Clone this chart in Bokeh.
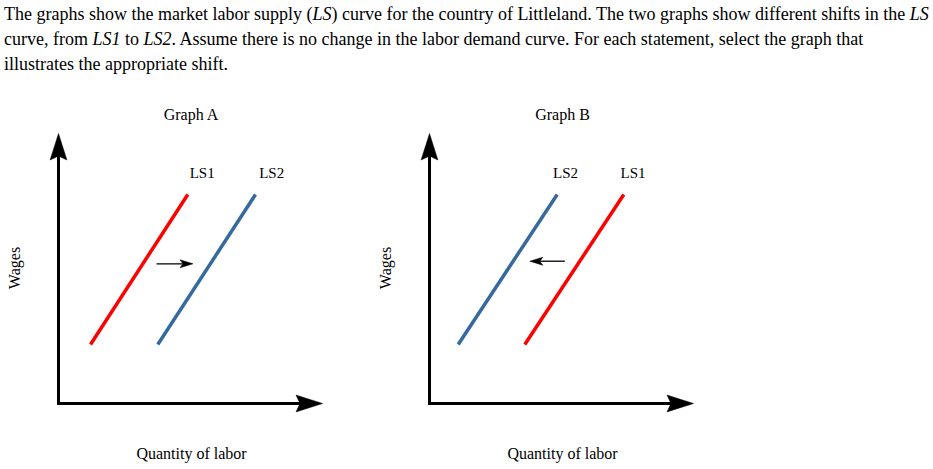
from bokeh.plotting import figure
from bokeh.models import Div
from bokeh.layouts import column, row
from bokeh.core.properties import value
from bokeh.embed import file_html
from bokeh.resources import INLINE

# ---------------- data (abstract units: quantity of labor / wages) ----------------
intro_lines = [
    "The graphs show the market labor supply (<i>LS</i>) curve for the country of Littleland. "
    "The two graphs show different shifts in the <i>LS</i>",
    "curve, from <i>LS1</i> to <i>LS2</i>. Assume there is no change in the labor demand curve. "
    "For each statement, select the graph that",
    "illustrates the appropriate shift.",
]
graph_titles = ["Graph A", "Graph B"]
x_label = "Quantity of labor"
y_label = "Wages"
curve_names = ["LS1", "LS2"]

wage_ends = [5.9, 20.9]            # wage at bottom / top of each LS line
a_ls1_q = [3.2, 12.93]
a_ls2_q = [9.93, 19.7]
b_ls1_q = [9.53, 19.43]
b_ls2_q = [2.87, 12.77]

a_shift_q = [9.8, 13.45]           # tail -> tip of the shift arrow
a_shift_w = 13.97
b_shift_q = [13.53, 10.03]
b_shift_w = 14.23

a_label_q = [14.37, 21.32]         # LS1, LS2 label centres
b_label_q = [20.35, 13.6]

axis_q_max = 26.4
axis_w_max = 27.0

RED = "#ff0000"
BLUE = "#366a9f"
FONT = value("Liberation Serif")


def head_poly(tx, ty, dx, dy, length, half, notch):
    n = (dx * dx + dy * dy) ** 0.5
    ux, uy = dx / n, dy / n
    px, py = -uy, ux
    bx, by = tx - length * ux, ty - length * uy
    nx, ny = tx - (length - notch) * ux, ty - (length - notch) * uy
    return ([tx, bx + half * px, nx, bx - half * px],
            [ty, by + half * py, ny, by - half * py])


def make_graph(title, ls1_q, ls2_q, shift_q, shift_w, label_q):
    p = figure(width=371, height=370, x_range=(-5.8, 31.3), y_range=(-6.2, 30.8),
               output_backend="svg", toolbar_location=None, min_border=0,
               x_axis_type=None, y_axis_type=None, tools="")
    p.grid.visible = False
    p.outline_line_color = None
    p.background_fill_color = "white"
    p.border_fill_color = "white"

    # axes with arrowheads
    hl, hh, hn = 2.65, 0.84, 0.4
    p.line([0, 0], [-0.15, axis_w_max - hl + hn], line_width=3, line_color="black")
    p.line([-0.15, axis_q_max - hl + hn], [0, 0], line_width=3, line_color="black")
    xs, ys = head_poly(0, axis_w_max, 0, 1, hl, hh, hn)
    p.patch(xs, ys, fill_color="black", line_color="black", line_width=0.5)
    xs, ys = head_poly(axis_q_max, 0, 1, 0, hl, hh, hn)
    p.patch(xs, ys, fill_color="black", line_color="black", line_width=0.5)

    # supply curves
    p.line(ls1_q, wage_ends, line_color=RED, line_width=3.5)
    p.line(ls2_q, wage_ends, line_color=BLUE, line_width=3.5)

    # shift arrow
    sl, sh, sn = 1.3, 0.4, 0.3
    d = shift_q[1] - shift_q[0]
    sgn = 1 if d > 0 else -1
    p.line([shift_q[0], shift_q[1] - sgn * (sl - sn)], [shift_w, shift_w],
           line_color="black", line_width=1.3)
    xs, ys = head_poly(shift_q[1], shift_w, d, 0, sl, sh, sn)
    p.patch(xs, ys, fill_color="black", line_color="black", line_width=0.5)

    # texts
    p.text(x=label_q, y=[23.1, 23.1], text=curve_names, text_font=FONT,
           text_font_size="15px", text_align="center", text_baseline="alphabetic",
           text_color="black")
    p.text(x=[13.3], y=[28.9], text=[title], text_font=FONT, text_font_size="16px",
           text_align="center", text_baseline="alphabetic", text_color="black")
    p.text(x=[13.3], y=[-4.95], text=[x_label], text_font=FONT, text_font_size="16px",
           text_align="center", text_baseline="alphabetic", text_color="black")
    p.text(x=[-4.4], y=[13.55], text=[y_label], text_font=FONT, text_font_size="16px",
           text_align="center", text_baseline="alphabetic", text_color="black",
           angle=1.5707963)
    return p


pa = make_graph(graph_titles[0], a_ls1_q, a_ls2_q, a_shift_q, a_shift_w, a_label_q)
pb = make_graph(graph_titles[1], b_ls1_q, b_ls2_q, b_shift_q, b_shift_w, b_label_q)

intro = Div(text="<br>".join(intro_lines), width=926, height=93, margin=(2, 0, 0, 4),
            styles={"font-family": "Liberation Serif", "font-size": "18px",
                    "line-height": "25px", "color": "black", "white-space": "nowrap"})

layout = column(intro, row(pa, pb))
open("out.html", "w").write(file_html(layout, INLINE))
